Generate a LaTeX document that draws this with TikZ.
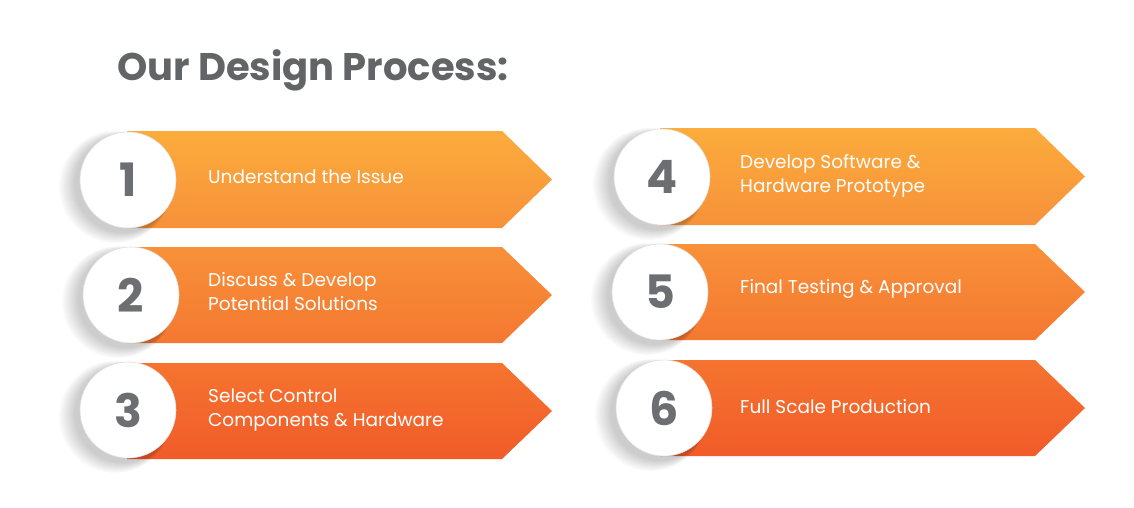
\documentclass[tikz,border=0pt]{standalone}
\usepackage{fontspec}
\setmainfont{Poppins}
\usetikzlibrary{positioning}
\definecolor{numgray}{HTML}{6D6E71}
\definecolor{titlegray}{HTML}{636466}
\definecolor{oA}{HTML}{FBAC3C}
\definecolor{oB}{HTML}{F7913A}
\definecolor{oC}{HTML}{F8913A}
\definecolor{oD}{HTML}{F47830}
\definecolor{oE}{HTML}{F5742F}
\definecolor{oF}{HTML}{F15B29}
\tikzset{
  x=1pt,y=-1pt,
  num/.style={circle,minimum size=96pt,inner sep=0pt,fill=white,draw=gray!25,line width=0.6pt,
    font=\fontsize{46}{46}\selectfont\bfseries,text=numgray},
  lbl/.style={anchor=west,align=left,text=white,font=\fontsize{18.5}{24}\selectfont},
}
\newcommand{\steparrow}[5]{% x0,y0,height,topcolor,bottomcolor
  \shade[top color=#4,bottom color=#5]
    (#1,#2) -- ++(375,0) -- ++(50,#3/2) -- ++(-50,#3/2) -- ++(-375,0) -- cycle;
}
\newcommand{\shadowcirc}[2]{%
  \foreach \i in {1,...,10}{
    \fill[black,opacity=0.018] (#1-4-\i*0.9,#2+4+\i*0.3) circle (48+\i*0.8);
  }
}
\begin{document}
\begin{tikzpicture}
\useasboundingbox[fill=white] (0,0) rectangle (1134,507);
\node[anchor=west,inner sep=0pt,text=titlegray,font=\fontsize{38.5}{40}\selectfont\bfseries] (title) at (117,70) {Our Design Process:};
% left column
\steparrow{127}{131}{97}{oA}{oB}
\steparrow{127}{247}{96}{oC}{oD}
\steparrow{127}{363}{96}{oE}{oF}
% right column
\steparrow{660}{128}{97}{oA}{oB}
\steparrow{660}{244}{96}{oC}{oD}
\steparrow{660}{360}{96}{oE}{oF}
\shadowcirc{128}{180}\shadowcirc{131}{295}\shadowcirc{128}{410}
\shadowcirc{662}{177}\shadowcirc{660}{292}\shadowcirc{664}{408}
\node[num] (n1) at (128,180) {1};
\node[num] (n2) at (131,295) {2};
\node[num] (n3) at (128,410) {3};
\node[num] (n4) at (662,177) {4};
\node[num] (n5) at (660,292) {5};
\node[num] (n6) at (664,408) {6};
\node[lbl,inner sep=0pt] (t1) at (208,177) {Understand the Issue};
\node[lbl,inner sep=0pt] (t2) at (208,292) {Discuss \& Develop\\Potential Solutions};
\node[lbl,inner sep=0pt] (t3) at (208,410) {Select Control\\Components \& Hardware};
\node[lbl,inner sep=0pt] (t4) at (740,176) {Develop Software \&\\Hardware Prototype};
\node[lbl,inner sep=0pt] (t5) at (740,289) {Final Testing \& Approval};
\node[lbl,inner sep=0pt] (t6) at (740,407) {Full Scale Production};
\end{tikzpicture}
\end{document}
